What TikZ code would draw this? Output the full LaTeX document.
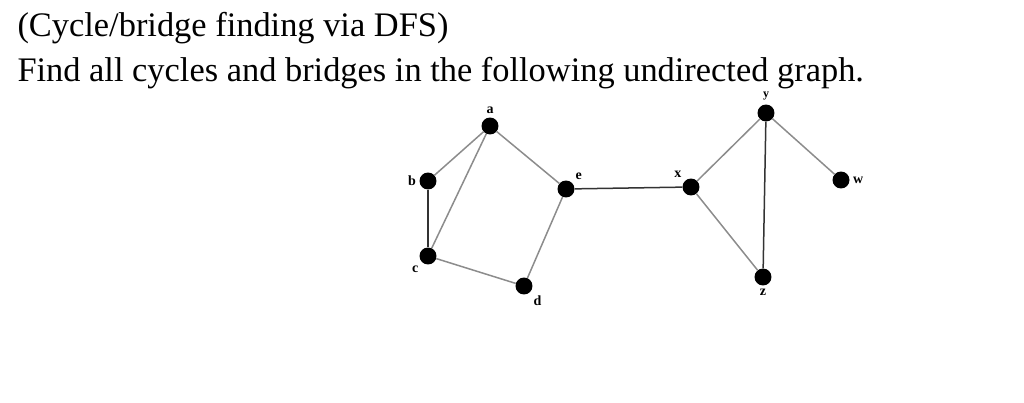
\documentclass[tikz,border=0pt]{standalone}
\usepackage{fontspec}
\setmainfont{Liberation Serif}
\usetikzlibrary{positioning}

\begin{document}
\begin{tikzpicture}[x=1pt,y=1pt,ele/.style={fill=black,circle,minimum width=.4pt,inner sep=6pt,label distance=6pt},every label/.style={font=\fontsize{14}{14}\selectfont\bfseries},edge/.style={line width=1.5pt,black!45},darkedge/.style={line width=1.5pt,black!80}]
  \useasboundingbox (0,0) rectangle (1024,402);
  \node[anchor=base west,font=\fontsize{34.4}{40}\selectfont] (t1) at (14,365) {(Cycle/bridge finding via DFS)};
  \node[anchor=base west,font=\fontsize{34.4}{40}\selectfont] (t2) at (14,320) {Find all cycles and bridges in the following undirected graph.};

  \node[ele,label=above:a] (a) at (490,276) {};
  \node[ele,label=left:b] (b) at (428,221) {};
  \node[ele,label=below left:c] (c) at (428,146) {};
  \node[ele,label=below right:d] (d) at (524,116) {};
  \node[ele,label=above right:e] (e) at (566,213) {};
  \node[ele,label=above left:x] (x) at (691,215) {};
  \node[ele,label={[label distance=1pt,font=\fontsize{12}{12}\selectfont\bfseries]above:y}] (y) at (766,289) {};
  \node[ele,label=right:w] (w) at (841,222) {};
  \node[ele,label=below:z] (z) at (763,125) {};

  \draw[edge] (a) -- (b);
  \draw[edge] (a) -- (c);
  \draw[edge] (a) -- (e);
  \draw[darkedge] (b) -- (c);
  \draw[edge] (c) -- (d);
  \draw[edge] (d) -- (e);
  \draw[darkedge] (e) -- (x);
  \draw[edge] (x) -- (y);
  \draw[edge] (x) -- (z);
  \draw[darkedge] (y) -- (z);
  \draw[edge] (y) -- (w);
 \end{tikzpicture}
\end{document}
